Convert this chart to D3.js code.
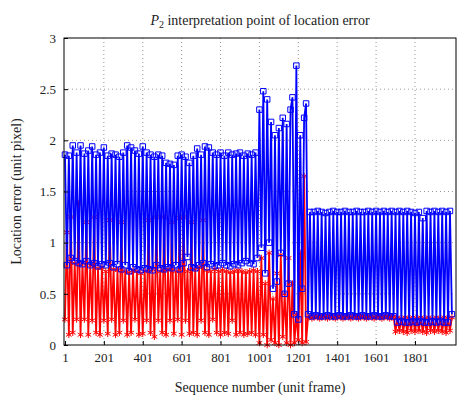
<!DOCTYPE html>
<html><head><meta charset="utf-8">
<script src="https://cdn.jsdelivr.net/npm/d3@7"></script>
<style>body{margin:0;background:#fff}text{font-family:"Liberation Serif","DejaVu Serif",serif}</style>
</head><body><div id="chart"></div>
<script>
// frames: 1, 11, 21, ... 1991 (step 10)
var frames = d3.range(200).map(function(i){ return 1 + i*10; });
var blueVals = [
1.86,0.78,1.85,0.85,1.95,0.82,1.88,0.80,1.95,0.79, 1.87,0.82,1.90,0.78,1.94,0.80,1.86,0.77,1.88,0.79,
1.93,0.78,1.85,0.80,1.87,0.76,1.86,0.79,1.84,0.74, 1.88,0.78,1.95,0.72,1.93,0.76,1.90,0.74,1.87,0.73,
1.94,0.75,1.88,0.74,1.86,0.73,1.84,0.78,1.86,0.75, 1.85,0.74,1.78,0.76,1.77,0.75,1.76,0.78,1.85,0.74,
1.86,0.80,1.84,0.86,1.78,0.76,1.85,0.75,1.92,0.78, 1.86,0.80,1.94,0.76,1.93,0.79,1.88,0.77,1.86,0.78,
1.88,0.80,1.85,0.78,1.88,0.77,1.86,0.79,1.87,0.78, 1.88,0.80,1.85,0.82,1.87,0.80,1.86,0.79,1.88,0.85,
2.30,0.95,2.48,0.70,2.40,1.00,2.18,0.55,2.05,0.62, 2.12,0.90,2.22,0.50,2.16,0.60,2.30,2.42,0.30,2.73,
0.25,2.05,0.55,2.22,2.36,
0.30,1.30,0.28,1.30,0.29,1.31,0.28,1.30,0.28,1.29, 0.29,1.30,0.28,1.31,0.28,1.30,0.29,1.30,0.28,1.31,
0.28,1.30,0.29,1.30,0.28,1.31,0.28,1.30,0.29,1.30, 0.28,1.31,0.28,1.30,0.29,1.31,0.28,1.30,0.28,1.31,
0.29,1.30,0.28,1.31,0.28,
1.30,0.22,1.31,0.23,1.30,0.22,1.31,0.22,1.30,0.23, 1.29,0.22,1.30,0.23,1.24,0.22,1.31,0.22,1.30,0.23,
1.31,0.22,1.30,0.23,1.31,0.22,1.30,0.22,1.31,0.30
];
var redVals = [
0.25,1.10,0.10,1.25,0.12,0.80,0.25,1.38,0.10,0.80, 0.25,1.20,0.10,0.78,0.24,1.25,0.12,0.75,0.10,0.76,
0.24,0.72,0.11,1.22,0.25,0.74,0.10,0.73,0.12,1.20, 0.24,0.72,0.10,0.71,0.12,0.73,0.25,0.72,0.10,0.70,
0.11,0.72,0.24,1.22,0.12,0.74,0.08,1.25,0.24,0.72, 0.12,1.25,0.10,0.74,0.24,1.20,0.11,0.72,0.25,1.24,
0.10,1.25,0.24,0.72,0.11,1.20,0.12,0.74,0.10,0.76, 0.24,1.22,0.12,0.73,0.10,0.72,0.25,0.74,0.12,0.72,
0.10,0.73,0.12,0.72,0.11,0.71,0.24,0.72,0.10,0.73, 0.12,0.72,0.10,0.71,0.11,0.72,0.12,0.73,0.10,0.72,
0.02,0.85,0.10,0.60,0.00,0.90,0.05,0.45,0.02,0.70, 0.00,0.88,0.08,0.50,0.02,0.85,0.00,0.60,0.02,0.30,
0.05,0.90,0.02,1.65,0.03,
0.27,0.28,0.26,0.27,0.28,0.27,0.26,0.27,0.28,0.27, 0.26,0.27,0.28,0.27,0.26,0.27,0.28,0.27,0.26,0.27,
0.28,0.27,0.26,0.27,0.28,0.27,0.26,0.27,0.28,0.27, 0.26,0.27,0.28,0.27,0.26,0.27,0.28,0.27,0.26,0.27,
0.28,0.27,0.26,0.27,0.28,
0.13,0.27,0.14,0.26,0.13,0.27,0.12,0.26,0.14,0.27, 0.13,0.26,0.14,0.27,0.13,0.26,0.12,0.27,0.14,0.26,
0.13,0.27,0.14,0.26,0.13,0.27,0.12,0.26,0.14,0.27
];
var xTicks = [1,201,401,601,801,1001,1201,1401,1601,1801];
var yTicks = [0,0.5,1,1.5,2,2.5,3];

var margin = {top: 38, right: 18, bottom: 65, left: 64},
    width = 474 - margin.left - margin.right,
    height = 410 - margin.top - margin.bottom;

var svg = d3.select("#chart").append("svg")
    .attr("width", 474).attr("height", 410)
    .append("g")
    .attr("transform", "translate(" + margin.left + "," + margin.top + ")");

var x = d3.scaleLinear().domain([-4, 2012]).range([0, width]);
var y = d3.scaleLinear().domain([0, 3]).range([height, 0]);

// grid
svg.append("g").selectAll("line").data(xTicks.slice(1)).enter().append("line")
    .attr("x1", d => x(d)).attr("x2", d => x(d)).attr("y1", 0).attr("y2", height)
    .attr("stroke", "#999").attr("stroke-dasharray", "1,3");
svg.append("g").selectAll("line").data(yTicks.slice(1, -1)).enter().append("line")
    .attr("y1", d => y(d)).attr("y2", d => y(d)).attr("x1", 0).attr("x2", width)
    .attr("stroke", "#999").attr("stroke-dasharray", "1,3");

function series(vals, color, sym, size) {
    var pts = vals.map(function(v, i){ return [frames[i], v]; });
    svg.append("path").datum(pts)
        .attr("d", d3.line().x(d => x(d[0])).y(d => y(d[1])))
        .attr("fill", "none").attr("stroke", color).attr("stroke-width", 1.8);
    svg.append("g").selectAll("path").data(pts).enter().append("path")
        .attr("transform", d => "translate(" + x(d[0]) + "," + y(d[1]) + ")")
        .attr("d", d3.symbol().type(sym).size(size))
        .attr("fill", "none").attr("stroke", color).attr("stroke-width", 1);
}
series(redVals, "#ff0000", d3.symbolAsterisk, 30);
series(blueVals, "#0000ff", d3.symbolSquare, 30);

// axes
svg.append("g").attr("transform", "translate(0," + height + ")")
    .call(d3.axisBottom(x).tickValues(xTicks).tickSize(-4).tickPadding(8).tickFormat(d3.format("d")))
    .call(g => g.select(".domain").remove())
    .selectAll("text").style("font-size", "13px").attr("fill", "#222");
svg.append("g")
    .call(d3.axisLeft(y).tickValues(yTicks).tickSize(-4).tickPadding(8).tickFormat(d => d))
    .call(g => g.select(".domain").remove())
    .selectAll("text").style("font-size", "13px").attr("fill", "#222");
svg.append("rect").attr("width", width).attr("height", height)
    .attr("fill", "none").attr("stroke", "#000");

// titles
var t = svg.append("text").attr("x", width/2).attr("y", -13).attr("text-anchor", "middle")
    .style("font-size", "14px").attr("fill", "#222");
t.append("tspan").style("font-style", "italic").text("P");
t.append("tspan").attr("dy", 3).style("font-size", "10px").text("2");
t.append("tspan").attr("dy", -3).text(" interpretation point of location error");
svg.append("text").attr("x", width/2).attr("y", height + 47).attr("text-anchor", "middle")
    .style("font-size", "14px").attr("fill", "#222").text("Sequence number (unit frame)");
svg.append("text").attr("transform", "rotate(-90)").attr("x", -height/2).attr("y", -43)
    .attr("text-anchor", "middle").style("font-size", "14px").attr("fill", "#222")
    .text("Location error (unit pixel)");
</script></body></html>
